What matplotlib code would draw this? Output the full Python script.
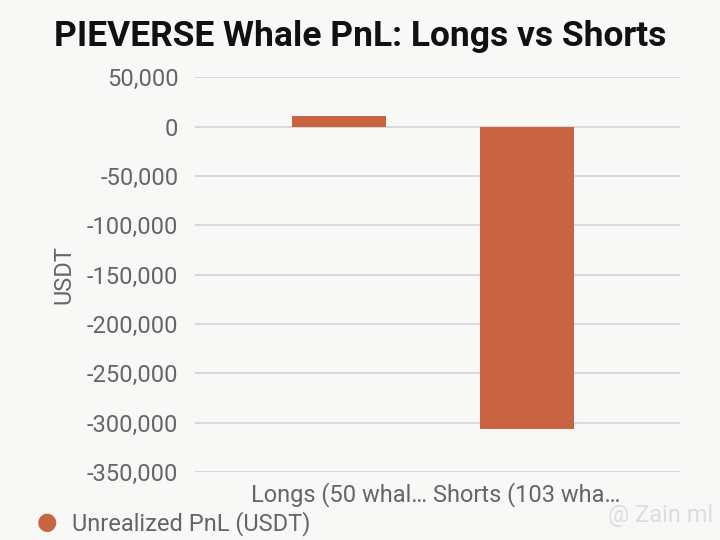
import matplotlib
matplotlib.use("Agg")
import matplotlib.pyplot as plt
from matplotlib.ticker import FuncFormatter

# data
categories = ["Longs (50 whal\u2026", "Shorts (103 wha\u2026"]
pnl_values = [10800, -306500]
y_ticks = [50000, 0, -50000, -100000, -150000, -200000, -250000, -300000, -350000]

bar_color = "#C96442"
bg = "#F8F8F6"
text_grey = "#666666"

plt.rcParams['font.family'] = ['Roboto', 'DejaVu Sans']

fig = plt.figure(figsize=(7.2, 5.4), dpi=100, facecolor=bg)
ax = fig.add_axes([0.271, 0.126, 0.673, 0.731], facecolor=bg)

xpos = list(range(len(categories)))
ax.bar(xpos, pnl_values, width=0.5, color=bar_color, zorder=3)

ax.set_xlim(-0.766, 1.814)
ax.set_ylim(-350000, 50000)
ax.set_yticks(y_ticks)
ax.yaxis.set_major_formatter(FuncFormatter(lambda v, p: f"{int(v):,}"))
ax.set_xticks(xpos)
ax.set_xticklabels(categories)

ax.grid(axis='y', color="#D9D9D9", linewidth=1.5, zorder=0)
for s in ax.spines.values():
    s.set_visible(False)
ax.tick_params(axis='both', length=0, labelsize=17, colors=text_grey)
ax.tick_params(axis='y', pad=12)
ax.tick_params(axis='x', pad=7)

ax.set_ylabel("USDT", fontsize=17, color=text_grey, labelpad=8)

fig.text(0.5, 0.933, "PIEVERSE Whale PnL: Longs vs Shorts", ha='center', va='center',
         fontsize=25.5, fontweight='bold', color="#111111")

# legend
fig.text(0.065, 0.033, "\u25CF", ha='center', va='center', fontsize=17, color=bar_color)
fig.text(0.1, 0.031, "Unrealized PnL (USDT)", ha='left', va='center', fontsize=17, color=text_grey)

# watermark
fig.text(0.99, 0.045, "@ Zain ml", ha='right', va='center', fontsize=17, color="#DDDDDD")

fig.savefig("out.png", dpi=100, facecolor=bg)
